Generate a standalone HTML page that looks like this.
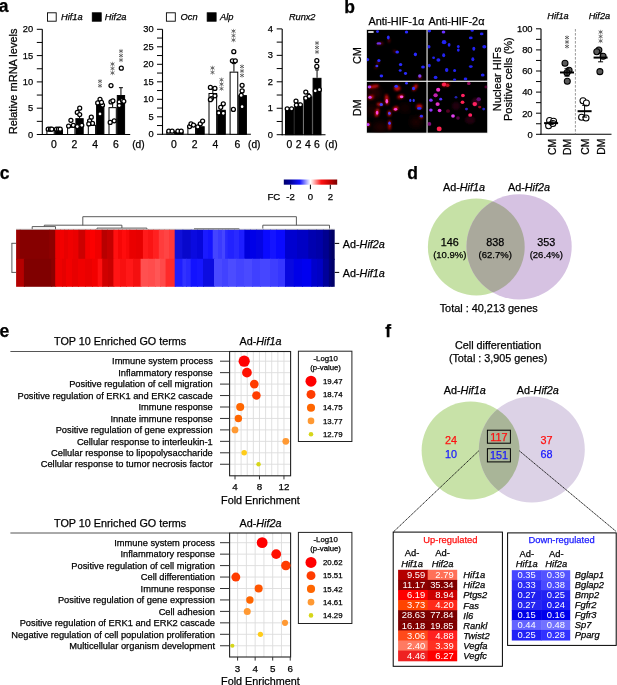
<!DOCTYPE html>
<html><head><meta charset="utf-8"><style>
html,body{margin:0;padding:0;background:#fff;width:617px;height:685px;overflow:hidden}
svg{display:block;will-change:transform;font-family:"Liberation Sans", sans-serif}
</style></head><body>
<svg width="617" height="685" viewBox="0 0 617 685" font-family="Liberation Sans, sans-serif">
<defs>
<linearGradient id="fcgrad" x1="0" x2="1" y1="0" y2="0">
<stop offset="0" stop-color="#00006e"/><stop offset="0.13" stop-color="#0000a0"/><stop offset="0.3" stop-color="#1414ff"/><stop offset="0.45" stop-color="#c8c8ff"/><stop offset="0.5" stop-color="#ffffff"/><stop offset="0.55" stop-color="#ffc8c8"/><stop offset="0.7" stop-color="#ff1414"/><stop offset="0.87" stop-color="#c00000"/><stop offset="1" stop-color="#7a0000"/>
</linearGradient>
<clipPath id="clipd"><circle cx="476.3" cy="247" r="48.4"/></clipPath>
<clipPath id="clipf"><circle cx="470.6" cy="450.5" r="49"/></clipPath>
<clipPath id="im1"><rect x="366.9" y="29.9" width="59.6" height="50.8"/></clipPath>
<clipPath id="im2"><rect x="427.6" y="29.9" width="59.6" height="50.8"/></clipPath>
<clipPath id="im3"><rect x="366.9" y="81.9" width="59.6" height="50.8"/></clipPath>
<clipPath id="im4"><rect x="427.6" y="81.9" width="59.6" height="50.8"/></clipPath>
<filter id="blur3" x="-50%" y="-50%" width="200%" height="200%"><feGaussianBlur stdDeviation="3"/></filter>
<filter id="blur1" x="-30%" y="-30%" width="160%" height="160%"><feGaussianBlur stdDeviation="0.6"/></filter>
<filter id="blur2" x="-20%" y="-20%" width="140%" height="140%"><feGaussianBlur stdDeviation="0.95"/></filter>
</defs>
<text x="-1.20" y="12.10" font-size="17.5" font-weight="bold" stroke="#000" stroke-width="0.25" >a</text>
<rect x="47.50" y="12.80" width="8.70" height="8.40" fill="#fff" stroke="#000" stroke-width="0.9" />
<text x="61.00" y="19.80" font-size="9.3" font-style="italic" stroke="#000" stroke-width="0.25" >Hif1a</text>
<rect x="92.30" y="12.80" width="8.90" height="8.40" fill="#000" stroke="#000" stroke-width="0.9" />
<text x="104.80" y="19.80" font-size="9.3" font-style="italic" stroke="#000" stroke-width="0.25" >Hif2a</text>
<rect x="166.40" y="12.80" width="8.90" height="8.40" fill="#fff" stroke="#000" stroke-width="0.9" />
<text x="180.50" y="19.80" font-size="9.3" font-style="italic" stroke="#000" stroke-width="0.25" >Ocn</text>
<rect x="207.20" y="12.80" width="8.90" height="8.40" fill="#000" stroke="#000" stroke-width="0.9" />
<text x="220.00" y="19.80" font-size="9.3" font-style="italic" stroke="#000" stroke-width="0.25" >Alp</text>
<text x="302.20" y="19.60" font-size="9.2" text-anchor="middle" font-style="italic" stroke="#000" stroke-width="0.25" >Runx2</text>
<text x="17.40" y="81.40" font-size="11.0" text-anchor="middle" stroke="#000" stroke-width="0.25" transform="rotate(-90 17.40 81.40)" >Relative mRNA levels</text>
<line x1="42.30" y1="29.30" x2="42.30" y2="135.00" stroke="#000" stroke-width="1.1" />
<line x1="41.80" y1="134.50" x2="130.20" y2="134.50" stroke="#000" stroke-width="1.1" />
<line x1="36.80" y1="134.50" x2="42.30" y2="134.50" stroke="#000" stroke-width="1.0" />
<line x1="36.80" y1="108.20" x2="42.30" y2="108.20" stroke="#000" stroke-width="1.0" />
<line x1="36.80" y1="81.90" x2="42.30" y2="81.90" stroke="#000" stroke-width="1.0" />
<line x1="36.80" y1="55.60" x2="42.30" y2="55.60" stroke="#000" stroke-width="1.0" />
<line x1="36.80" y1="29.30" x2="42.30" y2="29.30" stroke="#000" stroke-width="1.0" />
<line x1="36.80" y1="121.35" x2="42.30" y2="121.35" stroke="#000" stroke-width="1.0" />
<line x1="36.80" y1="95.05" x2="42.30" y2="95.05" stroke="#000" stroke-width="1.0" />
<line x1="36.80" y1="68.75" x2="42.30" y2="68.75" stroke="#000" stroke-width="1.0" />
<line x1="36.80" y1="42.45" x2="42.30" y2="42.45" stroke="#000" stroke-width="1.0" />
<text x="33.20" y="137.60" font-size="9.3" text-anchor="end" stroke="#000" stroke-width="0.25" >0</text>
<text x="33.20" y="111.30" font-size="9.3" text-anchor="end" stroke="#000" stroke-width="0.25" >5</text>
<text x="33.20" y="85.00" font-size="9.3" text-anchor="end" stroke="#000" stroke-width="0.25" >10</text>
<text x="33.20" y="58.70" font-size="9.3" text-anchor="end" stroke="#000" stroke-width="0.25" >15</text>
<text x="33.20" y="32.40" font-size="9.3" text-anchor="end" stroke="#000" stroke-width="0.25" >20</text>
<rect x="46.90" y="129.74" width="7.30" height="4.76" fill="#fff" stroke="#000" stroke-width="1.0" />
<rect x="55.20" y="129.74" width="7.30" height="4.76" fill="#000" stroke="#000" stroke-width="1.0" />
<rect x="67.60" y="127.37" width="7.30" height="7.13" fill="#fff" stroke="#000" stroke-width="1.0" />
<line x1="79.55" y1="118.19" x2="79.55" y2="113.99" stroke="#000" stroke-width="1.0" />
<line x1="77.55" y1="113.99" x2="81.55" y2="113.99" stroke="#000" stroke-width="1.0" />
<rect x="75.90" y="118.69" width="7.30" height="15.81" fill="#000" stroke="#000" stroke-width="1.0" />
<rect x="88.30" y="125.27" width="7.30" height="9.23" fill="#fff" stroke="#000" stroke-width="1.0" />
<line x1="100.25" y1="103.99" x2="100.25" y2="99.78" stroke="#000" stroke-width="1.0" />
<line x1="98.25" y1="99.78" x2="102.25" y2="99.78" stroke="#000" stroke-width="1.0" />
<rect x="96.60" y="104.49" width="7.30" height="30.01" fill="#000" stroke="#000" stroke-width="1.0" />
<line x1="112.65" y1="107.15" x2="112.65" y2="100.84" stroke="#000" stroke-width="1.0" />
<line x1="110.65" y1="100.84" x2="114.65" y2="100.84" stroke="#000" stroke-width="1.0" />
<rect x="109.00" y="107.65" width="7.30" height="26.85" fill="#fff" stroke="#000" stroke-width="1.0" />
<line x1="120.95" y1="95.05" x2="120.95" y2="87.69" stroke="#000" stroke-width="1.0" />
<line x1="118.95" y1="87.69" x2="122.95" y2="87.69" stroke="#000" stroke-width="1.0" />
<rect x="117.30" y="95.55" width="7.30" height="38.95" fill="#000" stroke="#000" stroke-width="1.0" />
<circle cx="48.20" cy="129.24" r="2.00" fill="#fff" stroke="#000" stroke-width="1.25" />
<circle cx="50.40" cy="129.24" r="2.00" fill="#fff" stroke="#000" stroke-width="1.25" />
<circle cx="51.80" cy="129.24" r="2.00" fill="#fff" stroke="#000" stroke-width="1.25" />
<circle cx="68.60" cy="126.08" r="2.00" fill="#fff" stroke="#000" stroke-width="1.25" />
<circle cx="70.90" cy="120.30" r="2.00" fill="#fff" stroke="#000" stroke-width="1.25" />
<circle cx="73.30" cy="125.30" r="2.00" fill="#fff" stroke="#000" stroke-width="1.25" />
<circle cx="91.30" cy="117.14" r="2.00" fill="#fff" stroke="#000" stroke-width="1.25" />
<circle cx="89.60" cy="120.82" r="2.00" fill="#fff" stroke="#000" stroke-width="1.25" />
<circle cx="92.50" cy="123.45" r="2.00" fill="#fff" stroke="#000" stroke-width="1.25" />
<circle cx="88.80" cy="123.98" r="2.00" fill="#fff" stroke="#000" stroke-width="1.25" />
<circle cx="111.00" cy="85.58" r="2.00" fill="#fff" stroke="#000" stroke-width="1.25" />
<circle cx="111.00" cy="101.89" r="2.00" fill="#fff" stroke="#000" stroke-width="1.25" />
<circle cx="112.90" cy="100.84" r="2.00" fill="#fff" stroke="#000" stroke-width="1.25" />
<circle cx="110.20" cy="122.40" r="2.00" fill="#fff" stroke="#000" stroke-width="1.25" />
<circle cx="114.20" cy="120.82" r="2.00" fill="#fff" stroke="#000" stroke-width="1.25" />
<circle cx="56.50" cy="129.24" r="2.00" fill="#fff" stroke="#000" stroke-width="1.25" />
<circle cx="58.50" cy="129.24" r="2.00" fill="#fff" stroke="#000" stroke-width="1.25" />
<circle cx="60.20" cy="129.24" r="2.00" fill="#fff" stroke="#000" stroke-width="1.25" />
<circle cx="77.30" cy="112.41" r="2.00" fill="#fff" stroke="#000" stroke-width="1.25" />
<circle cx="79.70" cy="108.20" r="2.00" fill="#fff" stroke="#000" stroke-width="1.25" />
<circle cx="79.70" cy="114.51" r="2.00" fill="#fff" stroke="#000" stroke-width="1.25" />
<circle cx="77.30" cy="126.61" r="2.00" fill="#fff" stroke="#000" stroke-width="1.25" />
<circle cx="81.80" cy="125.30" r="2.00" fill="#fff" stroke="#000" stroke-width="1.25" />
<circle cx="100.00" cy="99.26" r="2.00" fill="#fff" stroke="#000" stroke-width="1.25" />
<circle cx="97.70" cy="102.94" r="2.00" fill="#fff" stroke="#000" stroke-width="1.25" />
<circle cx="102.50" cy="105.04" r="2.00" fill="#fff" stroke="#000" stroke-width="1.25" />
<circle cx="100.00" cy="113.99" r="2.00" fill="#fff" stroke="#000" stroke-width="1.25" />
<circle cx="101.50" cy="102.41" r="2.00" fill="#fff" stroke="#000" stroke-width="1.25" />
<circle cx="121.30" cy="68.22" r="2.00" fill="#fff" stroke="#000" stroke-width="1.25" />
<circle cx="119.30" cy="101.89" r="2.00" fill="#fff" stroke="#000" stroke-width="1.25" />
<circle cx="122.50" cy="100.31" r="2.00" fill="#fff" stroke="#000" stroke-width="1.25" />
<circle cx="123.80" cy="101.36" r="2.00" fill="#fff" stroke="#000" stroke-width="1.25" />
<circle cx="119.30" cy="105.57" r="2.00" fill="#fff" stroke="#000" stroke-width="1.25" />
<path d="M100.00,79.03V83.53M100.00,83.47V87.97" stroke="#888" stroke-width="0.8" fill="none"/>
<path d="M98.05,80.04L101.95,82.51M98.05,82.51L101.95,80.04M98.05,84.49L101.95,86.96M98.05,86.96L101.95,84.49" stroke="#555" stroke-width="0.9" fill="none"/>
<path d="M112.50,61.80V66.30M112.50,66.25V70.75M112.50,70.70V75.20" stroke="#888" stroke-width="0.8" fill="none"/>
<path d="M110.55,62.81L114.45,65.29M110.55,65.29L114.45,62.81M110.55,67.26L114.45,69.74M110.55,69.74L114.45,67.26M110.55,71.71L114.45,74.19M110.55,74.19L114.45,71.71" stroke="#555" stroke-width="0.9" fill="none"/>
<path d="M121.00,48.90V53.40M121.00,53.35V57.85M121.00,57.80V62.30" stroke="#888" stroke-width="0.8" fill="none"/>
<path d="M119.05,49.91L122.95,52.39M119.05,52.39L122.95,49.91M119.05,54.36L122.95,56.84M119.05,56.84L122.95,54.36M119.05,58.81L122.95,61.29M119.05,61.29L122.95,58.81" stroke="#555" stroke-width="0.9" fill="none"/>
<text x="53.80" y="148.10" font-size="10.4" text-anchor="middle" stroke="#000" stroke-width="0.25" >0</text>
<text x="74.50" y="148.10" font-size="10.4" text-anchor="middle" stroke="#000" stroke-width="0.25" >2</text>
<text x="95.20" y="148.10" font-size="10.4" text-anchor="middle" stroke="#000" stroke-width="0.25" >4</text>
<text x="116.00" y="148.10" font-size="10.4" text-anchor="middle" stroke="#000" stroke-width="0.25" >6</text>
<text x="132.20" y="148.10" font-size="10.2" stroke="#000" stroke-width="0.25" >(d)</text>
<line x1="162.50" y1="29.30" x2="162.50" y2="134.80" stroke="#000" stroke-width="1.1" />
<line x1="162.00" y1="134.30" x2="250.90" y2="134.30" stroke="#000" stroke-width="1.1" />
<line x1="157.00" y1="134.30" x2="162.50" y2="134.30" stroke="#000" stroke-width="1.0" />
<line x1="157.00" y1="116.80" x2="162.50" y2="116.80" stroke="#000" stroke-width="1.0" />
<line x1="157.00" y1="99.30" x2="162.50" y2="99.30" stroke="#000" stroke-width="1.0" />
<line x1="157.00" y1="81.80" x2="162.50" y2="81.80" stroke="#000" stroke-width="1.0" />
<line x1="157.00" y1="64.30" x2="162.50" y2="64.30" stroke="#000" stroke-width="1.0" />
<line x1="157.00" y1="46.80" x2="162.50" y2="46.80" stroke="#000" stroke-width="1.0" />
<line x1="157.00" y1="29.30" x2="162.50" y2="29.30" stroke="#000" stroke-width="1.0" />
<line x1="157.00" y1="125.55" x2="162.50" y2="125.55" stroke="#000" stroke-width="1.0" />
<line x1="157.00" y1="108.05" x2="162.50" y2="108.05" stroke="#000" stroke-width="1.0" />
<line x1="157.00" y1="90.55" x2="162.50" y2="90.55" stroke="#000" stroke-width="1.0" />
<line x1="157.00" y1="73.05" x2="162.50" y2="73.05" stroke="#000" stroke-width="1.0" />
<line x1="157.00" y1="55.55" x2="162.50" y2="55.55" stroke="#000" stroke-width="1.0" />
<line x1="157.00" y1="38.05" x2="162.50" y2="38.05" stroke="#000" stroke-width="1.0" />
<text x="153.60" y="137.40" font-size="9.3" text-anchor="end" stroke="#000" stroke-width="0.25" >0</text>
<text x="153.60" y="119.90" font-size="9.3" text-anchor="end" stroke="#000" stroke-width="0.25" >5</text>
<text x="153.60" y="102.40" font-size="9.3" text-anchor="end" stroke="#000" stroke-width="0.25" >10</text>
<text x="153.60" y="84.90" font-size="9.3" text-anchor="end" stroke="#000" stroke-width="0.25" >15</text>
<text x="153.60" y="67.40" font-size="9.3" text-anchor="end" stroke="#000" stroke-width="0.25" >20</text>
<text x="153.60" y="49.90" font-size="9.3" text-anchor="end" stroke="#000" stroke-width="0.25" >25</text>
<text x="153.60" y="32.40" font-size="9.3" text-anchor="end" stroke="#000" stroke-width="0.25" >30</text>
<rect x="166.80" y="131.30" width="7.65" height="3.00" fill="#fff" stroke="#000" stroke-width="1.0" />
<rect x="175.45" y="131.48" width="7.65" height="2.82" fill="#000" stroke="#000" stroke-width="1.0" />
<line x1="191.72" y1="125.90" x2="191.72" y2="124.15" stroke="#000" stroke-width="1.0" />
<line x1="189.72" y1="124.15" x2="193.72" y2="124.15" stroke="#000" stroke-width="1.0" />
<rect x="187.90" y="126.40" width="7.65" height="7.90" fill="#fff" stroke="#000" stroke-width="1.0" />
<line x1="200.38" y1="126.25" x2="200.38" y2="124.15" stroke="#000" stroke-width="1.0" />
<line x1="198.38" y1="124.15" x2="202.38" y2="124.15" stroke="#000" stroke-width="1.0" />
<rect x="196.55" y="126.75" width="7.65" height="7.55" fill="#000" stroke="#000" stroke-width="1.0" />
<line x1="212.82" y1="93.00" x2="212.82" y2="88.10" stroke="#000" stroke-width="1.0" />
<line x1="210.82" y1="88.10" x2="214.82" y2="88.10" stroke="#000" stroke-width="1.0" />
<rect x="209.00" y="93.50" width="7.65" height="40.80" fill="#fff" stroke="#000" stroke-width="1.0" />
<line x1="221.47" y1="109.80" x2="221.47" y2="106.30" stroke="#000" stroke-width="1.0" />
<line x1="219.47" y1="106.30" x2="223.47" y2="106.30" stroke="#000" stroke-width="1.0" />
<rect x="217.65" y="110.30" width="7.65" height="24.00" fill="#000" stroke="#000" stroke-width="1.0" />
<line x1="233.93" y1="71.65" x2="233.93" y2="63.60" stroke="#000" stroke-width="1.0" />
<line x1="231.93" y1="63.60" x2="235.93" y2="63.60" stroke="#000" stroke-width="1.0" />
<rect x="230.10" y="72.15" width="7.65" height="62.15" fill="#fff" stroke="#000" stroke-width="1.0" />
<line x1="242.58" y1="95.10" x2="242.58" y2="90.20" stroke="#000" stroke-width="1.0" />
<line x1="240.58" y1="90.20" x2="244.58" y2="90.20" stroke="#000" stroke-width="1.0" />
<rect x="238.75" y="95.60" width="7.65" height="38.70" fill="#000" stroke="#000" stroke-width="1.0" />
<circle cx="168.80" cy="131.15" r="2.00" fill="#fff" stroke="#000" stroke-width="1.25" />
<circle cx="172.10" cy="131.15" r="2.00" fill="#fff" stroke="#000" stroke-width="1.25" />
<circle cx="189.60" cy="126.60" r="2.00" fill="#fff" stroke="#000" stroke-width="1.25" />
<circle cx="191.00" cy="123.80" r="2.00" fill="#fff" stroke="#000" stroke-width="1.25" />
<circle cx="193.50" cy="125.03" r="2.00" fill="#fff" stroke="#000" stroke-width="1.25" />
<circle cx="210.40" cy="87.40" r="2.00" fill="#fff" stroke="#000" stroke-width="1.25" />
<circle cx="214.90" cy="88.45" r="2.00" fill="#fff" stroke="#000" stroke-width="1.25" />
<circle cx="211.40" cy="98.60" r="2.00" fill="#fff" stroke="#000" stroke-width="1.25" />
<circle cx="214.90" cy="95.80" r="2.00" fill="#fff" stroke="#000" stroke-width="1.25" />
<circle cx="210.40" cy="99.65" r="2.00" fill="#fff" stroke="#000" stroke-width="1.25" />
<circle cx="233.80" cy="51.70" r="2.00" fill="#fff" stroke="#000" stroke-width="1.25" />
<circle cx="232.40" cy="60.80" r="2.00" fill="#fff" stroke="#000" stroke-width="1.25" />
<circle cx="235.30" cy="60.80" r="2.00" fill="#fff" stroke="#000" stroke-width="1.25" />
<circle cx="233.40" cy="109.45" r="2.00" fill="#fff" stroke="#000" stroke-width="1.25" />
<circle cx="177.90" cy="131.15" r="2.00" fill="#fff" stroke="#000" stroke-width="1.25" />
<circle cx="181.20" cy="131.15" r="2.00" fill="#fff" stroke="#000" stroke-width="1.25" />
<circle cx="197.80" cy="126.95" r="2.00" fill="#fff" stroke="#000" stroke-width="1.25" />
<circle cx="200.30" cy="123.80" r="2.00" fill="#fff" stroke="#000" stroke-width="1.25" />
<circle cx="202.60" cy="121.00" r="2.00" fill="#fff" stroke="#000" stroke-width="1.25" />
<circle cx="223.30" cy="103.85" r="2.00" fill="#fff" stroke="#000" stroke-width="1.25" />
<circle cx="220.70" cy="107.35" r="2.00" fill="#fff" stroke="#000" stroke-width="1.25" />
<circle cx="218.80" cy="112.95" r="2.00" fill="#fff" stroke="#000" stroke-width="1.25" />
<circle cx="223.30" cy="113.30" r="2.00" fill="#fff" stroke="#000" stroke-width="1.25" />
<circle cx="242.10" cy="85.30" r="2.00" fill="#fff" stroke="#000" stroke-width="1.25" />
<circle cx="242.10" cy="90.90" r="2.00" fill="#fff" stroke="#000" stroke-width="1.25" />
<circle cx="241.20" cy="95.45" r="2.00" fill="#fff" stroke="#000" stroke-width="1.25" />
<circle cx="242.10" cy="106.65" r="2.00" fill="#fff" stroke="#000" stroke-width="1.25" />
<path d="M212.50,65.73V70.23M212.50,70.17V74.67" stroke="#888" stroke-width="0.8" fill="none"/>
<path d="M210.55,66.74L214.45,69.21M210.55,69.21L214.45,66.74M210.55,71.19L214.45,73.66M210.55,73.66L214.45,71.19" stroke="#555" stroke-width="0.9" fill="none"/>
<path d="M221.50,77.50V82.00M221.50,81.95V86.45M221.50,86.40V90.90" stroke="#888" stroke-width="0.8" fill="none"/>
<path d="M219.55,78.51L223.45,80.99M219.55,80.99L223.45,78.51M219.55,82.96L223.45,85.44M219.55,85.44L223.45,82.96M219.55,87.41L223.45,89.89M219.55,89.89L223.45,87.41" stroke="#555" stroke-width="0.9" fill="none"/>
<path d="M233.50,28.90V33.40M233.50,33.35V37.85M233.50,37.80V42.30" stroke="#888" stroke-width="0.8" fill="none"/>
<path d="M231.55,29.91L235.45,32.39M231.55,32.39L235.45,29.91M231.55,34.36L235.45,36.84M231.55,36.84L235.45,34.36M231.55,38.81L235.45,41.29M231.55,41.29L235.45,38.81" stroke="#555" stroke-width="0.9" fill="none"/>
<path d="M242.00,64.30V68.80M242.00,68.75V73.25M242.00,73.20V77.70" stroke="#888" stroke-width="0.8" fill="none"/>
<path d="M240.05,65.31L243.95,67.79M240.05,67.79L243.95,65.31M240.05,69.76L243.95,72.24M240.05,72.24L243.95,69.76M240.05,74.21L243.95,76.69M240.05,76.69L243.95,74.21" stroke="#555" stroke-width="0.9" fill="none"/>
<text x="173.80" y="148.10" font-size="10.4" text-anchor="middle" stroke="#000" stroke-width="0.25" >0</text>
<text x="194.60" y="148.10" font-size="10.4" text-anchor="middle" stroke="#000" stroke-width="0.25" >2</text>
<text x="215.30" y="148.10" font-size="10.4" text-anchor="middle" stroke="#000" stroke-width="0.25" >4</text>
<text x="237.40" y="148.10" font-size="10.4" text-anchor="middle" stroke="#000" stroke-width="0.25" >6</text>
<text x="248.00" y="148.10" font-size="10.2" stroke="#000" stroke-width="0.25" >(d)</text>
<line x1="282.20" y1="28.90" x2="282.20" y2="135.20" stroke="#000" stroke-width="1.1" />
<line x1="281.70" y1="134.70" x2="325.50" y2="134.70" stroke="#000" stroke-width="1.1" />
<line x1="276.70" y1="134.70" x2="282.20" y2="134.70" stroke="#000" stroke-width="1.0" />
<line x1="276.70" y1="108.25" x2="282.20" y2="108.25" stroke="#000" stroke-width="1.0" />
<line x1="276.70" y1="81.80" x2="282.20" y2="81.80" stroke="#000" stroke-width="1.0" />
<line x1="276.70" y1="55.35" x2="282.20" y2="55.35" stroke="#000" stroke-width="1.0" />
<line x1="276.70" y1="28.90" x2="282.20" y2="28.90" stroke="#000" stroke-width="1.0" />
<line x1="276.70" y1="121.47" x2="282.20" y2="121.47" stroke="#000" stroke-width="1.0" />
<line x1="276.70" y1="95.02" x2="282.20" y2="95.02" stroke="#000" stroke-width="1.0" />
<line x1="276.70" y1="68.57" x2="282.20" y2="68.57" stroke="#000" stroke-width="1.0" />
<line x1="276.70" y1="42.12" x2="282.20" y2="42.12" stroke="#000" stroke-width="1.0" />
<text x="273.00" y="137.80" font-size="9.3" text-anchor="end" stroke="#000" stroke-width="0.25" >0</text>
<text x="273.00" y="111.35" font-size="9.3" text-anchor="end" stroke="#000" stroke-width="0.25" >1</text>
<text x="273.00" y="84.90" font-size="9.3" text-anchor="end" stroke="#000" stroke-width="0.25" >2</text>
<text x="273.00" y="58.45" font-size="9.3" text-anchor="end" stroke="#000" stroke-width="0.25" >3</text>
<text x="273.00" y="32.00" font-size="9.3" text-anchor="end" stroke="#000" stroke-width="0.25" >4</text>
<rect x="285.50" y="108.75" width="7.90" height="25.95" fill="#000" stroke="#000" stroke-width="1.0" />
<line x1="298.65" y1="105.60" x2="298.65" y2="102.96" stroke="#000" stroke-width="1.0" />
<line x1="296.65" y1="102.96" x2="300.65" y2="102.96" stroke="#000" stroke-width="1.0" />
<rect x="294.70" y="106.10" width="7.90" height="28.59" fill="#000" stroke="#000" stroke-width="1.0" />
<line x1="307.95" y1="96.35" x2="307.95" y2="93.70" stroke="#000" stroke-width="1.0" />
<line x1="305.95" y1="93.70" x2="309.95" y2="93.70" stroke="#000" stroke-width="1.0" />
<rect x="304.00" y="96.85" width="7.90" height="37.85" fill="#000" stroke="#000" stroke-width="1.0" />
<line x1="317.05" y1="77.83" x2="317.05" y2="69.90" stroke="#000" stroke-width="1.0" />
<line x1="315.05" y1="69.90" x2="319.05" y2="69.90" stroke="#000" stroke-width="1.0" />
<rect x="313.10" y="78.33" width="7.90" height="56.37" fill="#000" stroke="#000" stroke-width="1.0" />
<circle cx="287.20" cy="108.78" r="2.00" fill="#fff" stroke="#000" stroke-width="1.25" />
<circle cx="291.60" cy="108.78" r="2.00" fill="#fff" stroke="#000" stroke-width="1.25" />
<circle cx="296.00" cy="101.11" r="2.00" fill="#fff" stroke="#000" stroke-width="1.25" />
<circle cx="296.40" cy="105.08" r="2.00" fill="#fff" stroke="#000" stroke-width="1.25" />
<circle cx="300.40" cy="104.81" r="2.00" fill="#fff" stroke="#000" stroke-width="1.25" />
<circle cx="305.80" cy="92.12" r="2.00" fill="#fff" stroke="#000" stroke-width="1.25" />
<circle cx="305.80" cy="98.20" r="2.00" fill="#fff" stroke="#000" stroke-width="1.25" />
<circle cx="309.10" cy="96.35" r="2.00" fill="#fff" stroke="#000" stroke-width="1.25" />
<circle cx="316.80" cy="60.64" r="2.00" fill="#fff" stroke="#000" stroke-width="1.25" />
<circle cx="316.80" cy="66.46" r="2.00" fill="#fff" stroke="#000" stroke-width="1.25" />
<circle cx="315.30" cy="90.79" r="2.00" fill="#fff" stroke="#000" stroke-width="1.25" />
<circle cx="319.40" cy="89.73" r="2.00" fill="#fff" stroke="#000" stroke-width="1.25" />
<path d="M317.00,40.80V45.30M317.00,45.25V49.75M317.00,49.70V54.20" stroke="#888" stroke-width="0.8" fill="none"/>
<path d="M315.05,41.81L318.95,44.29M315.05,44.29L318.95,41.81M315.05,46.26L318.95,48.74M315.05,48.74L318.95,46.26M315.05,50.71L318.95,53.19M315.05,53.19L318.95,50.71" stroke="#555" stroke-width="0.9" fill="none"/>
<text x="289.50" y="148.10" font-size="10.4" text-anchor="middle" stroke="#000" stroke-width="0.25" >0</text>
<text x="298.60" y="148.10" font-size="10.4" text-anchor="middle" stroke="#000" stroke-width="0.25" >2</text>
<text x="307.80" y="148.10" font-size="10.4" text-anchor="middle" stroke="#000" stroke-width="0.25" >4</text>
<text x="316.90" y="148.10" font-size="10.4" text-anchor="middle" stroke="#000" stroke-width="0.25" >6</text>
<text x="325.10" y="148.10" font-size="10.2" stroke="#000" stroke-width="0.25" >(d)</text>
<text x="344.30" y="12.50" font-size="17.5" font-weight="bold" stroke="#000" stroke-width="0.25" >b</text>
<text x="396.40" y="25.40" font-size="10.9" text-anchor="middle" stroke="#000" stroke-width="0.25" >Anti-HIF-1α</text>
<text x="456.50" y="25.40" font-size="10.9" text-anchor="middle" stroke="#000" stroke-width="0.25" >Anti-HIF-2α</text>
<text x="360.90" y="55.60" font-size="10.9" text-anchor="middle" stroke="#000" stroke-width="0.25" transform="rotate(-90 360.90 55.60)" >CM</text>
<text x="360.90" y="107.80" font-size="10.9" text-anchor="middle" stroke="#000" stroke-width="0.25" transform="rotate(-90 360.90 107.80)" >DM</text>
<rect x="366.00" y="29.00" width="122.20" height="104.60" fill="#f0f0f0" />
<rect x="366.90" y="29.90" width="59.60" height="50.80" fill="#000" />
<rect x="427.60" y="29.90" width="59.60" height="50.80" fill="#000" />
<rect x="366.90" y="81.90" width="59.60" height="50.80" fill="#000" />
<rect x="427.60" y="81.90" width="59.60" height="50.80" fill="#000" />
<g clip-path="url(#im1)">
<g filter="url(#blur2)">
<ellipse cx="380" cy="43.6" rx="3.5" ry="1.2" fill="#700010" transform="rotate(-5 380 43.6)"/>
<ellipse cx="389" cy="40.5" rx="1" ry="2.2" fill="#700010" transform="rotate(0 389 40.5)"/>
<ellipse cx="395" cy="51.5" rx="2" ry="1" fill="#700010" transform="rotate(20 395 51.5)"/>
<ellipse cx="378" cy="62.5" rx="1.5" ry="1.2" fill="#700010" transform="rotate(0 378 62.5)"/>
<ellipse cx="376" cy="67.5" rx="1.5" ry="1" fill="#700010" transform="rotate(0 376 67.5)"/>
<ellipse cx="420" cy="77.5" rx="2" ry="1.5" fill="#700010" transform="rotate(0 420 77.5)"/>
</g><g filter="url(#blur1)">
<ellipse cx="377.5" cy="31.6" rx="1.5" ry="1.3" fill="#2a2aff"/>
<ellipse cx="406.5" cy="32" rx="1.7" ry="1.5" fill="#2a2aff"/>
<ellipse cx="388.3" cy="37.5" rx="1.4" ry="2.0" fill="#2a2aff"/>
<ellipse cx="378.9" cy="43.4" rx="2.4" ry="1.2" fill="#6a30e8"/>
<ellipse cx="397.2" cy="52.1" rx="1.8" ry="1.5" fill="#2a2aff"/>
<ellipse cx="415.4" cy="54.3" rx="1.6" ry="1.9" fill="#2a2aff"/>
<ellipse cx="367.6" cy="59.6" rx="1.5" ry="1.6" fill="#2a2aff"/>
<ellipse cx="378.9" cy="60.6" rx="1.6" ry="1.5" fill="#2a2aff"/>
<ellipse cx="376.9" cy="66" rx="1.5" ry="1.3" fill="#3a30f0"/>
<ellipse cx="400.6" cy="64.6" rx="1.7" ry="1.5" fill="#2a2aff"/>
<ellipse cx="423" cy="67" rx="1.9" ry="1.6" fill="#2a2aff"/>
<ellipse cx="400.2" cy="70.5" rx="1.5" ry="1.3" fill="#2a2aff"/>
<ellipse cx="405.5" cy="73.5" rx="1.6" ry="1.4" fill="#2a2aff"/>
<ellipse cx="381.4" cy="76" rx="1.8" ry="1.4" fill="#2a2aff"/>
<ellipse cx="419.8" cy="76" rx="1.7" ry="1.8" fill="#8040f0"/>
</g></g>
<g clip-path="url(#im2)"><g filter="url(#blur1)">
<ellipse cx="429.3" cy="31" rx="1.8" ry="1.4" fill="#2424f4"/>
<ellipse cx="443.5" cy="32" rx="1.8" ry="1.6" fill="#6a30ff"/>
<ellipse cx="472.2" cy="30.4" rx="1.6" ry="1.3" fill="#2424f4"/>
<ellipse cx="481.7" cy="33.9" rx="1.8" ry="1.4" fill="#2424f4"/>
<ellipse cx="470.8" cy="37.9" rx="1.9" ry="1.4" fill="#2424f4"/>
<ellipse cx="444.1" cy="42.2" rx="2.3" ry="2.1" fill="#2424f4"/>
<ellipse cx="449.1" cy="44.8" rx="1.4" ry="1.9" fill="#2424f4"/>
<ellipse cx="428.9" cy="46.8" rx="1.6" ry="1.8" fill="#2424f4"/>
<ellipse cx="458.3" cy="46.5" rx="1.4" ry="1.6" fill="#2424f4"/>
<ellipse cx="458.3" cy="50.1" rx="1.4" ry="1.6" fill="#2424f4"/>
<ellipse cx="473.8" cy="48.8" rx="1.5" ry="2.0" fill="#2424f4"/>
<ellipse cx="484.3" cy="46.8" rx="2.0" ry="1.8" fill="#2424f4"/>
<ellipse cx="443.7" cy="55.3" rx="1.5" ry="2.0" fill="#2424f4"/>
<ellipse cx="433.6" cy="57.7" rx="1.4" ry="1.3" fill="#2424f4"/>
<ellipse cx="438.4" cy="60" rx="2.0" ry="1.8" fill="#2424f4"/>
<ellipse cx="472.8" cy="59.2" rx="1.5" ry="2.0" fill="#2424f4"/>
<ellipse cx="429.3" cy="65.6" rx="1.5" ry="1.8" fill="#2424f4"/>
<ellipse cx="470.8" cy="66.6" rx="1.9" ry="1.4" fill="#2424f4"/>
<ellipse cx="446.7" cy="69.9" rx="1.7" ry="2.0" fill="#2424f4"/>
<ellipse cx="454.6" cy="70.5" rx="1.5" ry="1.6" fill="#2424f4"/>
<ellipse cx="482.7" cy="75.1" rx="1.9" ry="1.5" fill="#2424f4"/>
<ellipse cx="435.6" cy="77.4" rx="1.9" ry="1.6" fill="#2424f4"/>
<ellipse cx="465.5" cy="79" rx="1.8" ry="1.4" fill="#2424f4"/>
<ellipse cx="454.6" cy="79.8" rx="1.6" ry="1.2" fill="#2424f4"/>
</g></g>
<g clip-path="url(#im3)">
<g filter="url(#blur3)">
<ellipse cx="374" cy="93" rx="7" ry="6" fill="#2a0000"/>
<ellipse cx="380" cy="127" rx="7" ry="4" fill="#2a0000"/>
<ellipse cx="372" cy="110" rx="4" ry="5" fill="#2a0000"/>
<ellipse cx="416" cy="122" rx="5" ry="4" fill="#2a0000"/>
<ellipse cx="405" cy="108" rx="4" ry="3" fill="#2a0000"/>
</g>
<g filter="url(#blur2)">
<ellipse cx="373.5" cy="86.6" rx="5.5" ry="1.7" fill="#c00808" transform="rotate(-10 373.5 86.6)"/>
<ellipse cx="397.2" cy="88.2" rx="3.2" ry="2.8" fill="#c00808" transform="rotate(0 397.2 88.2)"/>
<ellipse cx="415" cy="87.5" rx="1.9" ry="3.8" fill="#c00808" transform="rotate(35 415 87.5)"/>
<ellipse cx="371" cy="97.3" rx="3.0" ry="2.0" fill="#c00808" transform="rotate(-20 371 97.3)"/>
<ellipse cx="400.6" cy="96.6" rx="3.4" ry="2.0" fill="#c00808" transform="rotate(-15 400.6 96.6)"/>
<ellipse cx="386.8" cy="99.5" rx="2.0" ry="5.6" fill="#c00808" transform="rotate(-5 386.8 99.5)"/>
<ellipse cx="379.8" cy="104.2" rx="3.2" ry="1.8" fill="#c00808" transform="rotate(0 379.8 104.2)"/>
<ellipse cx="419.4" cy="106.5" rx="3.0" ry="2.6" fill="#c00808" transform="rotate(0 419.4 106.5)"/>
<ellipse cx="395.6" cy="108.6" rx="3.0" ry="2.2" fill="#c00808" transform="rotate(-30 395.6 108.6)"/>
<ellipse cx="377.1" cy="112.6" rx="2.0" ry="4.4" fill="#c00808" transform="rotate(12 377.1 112.6)"/>
<ellipse cx="389.4" cy="113.6" rx="1.8" ry="3.0" fill="#c00808" transform="rotate(0 389.4 113.6)"/>
<ellipse cx="368" cy="124.5" rx="1.8" ry="2.0" fill="#c00808" transform="rotate(0 368 124.5)"/>
<ellipse cx="389.6" cy="125" rx="1.4" ry="5.0" fill="#c00808" transform="rotate(0 389.6 125)"/>
<ellipse cx="421.4" cy="117" rx="1.8" ry="1.6" fill="#c00808" transform="rotate(0 421.4 117)"/>
</g>
<g filter="url(#blur1)">
<ellipse cx="370" cy="97.2" rx="1.7" ry="1.5" fill="#d040f0"/>
<ellipse cx="369.5" cy="87" rx="1.8" ry="1.4" fill="#b040ff"/>
<ellipse cx="396.2" cy="86.3" rx="1.8" ry="1.5" fill="#3030ff"/>
<ellipse cx="413.5" cy="88.5" rx="1.5" ry="1.8" fill="#3030ff"/>
<ellipse cx="406.5" cy="83.2" rx="1.5" ry="1.2" fill="#3030ff"/>
<ellipse cx="401.6" cy="96.8" rx="1.8" ry="1.4" fill="#ff50e0"/>
<ellipse cx="386.8" cy="101.2" rx="1.3" ry="2.2" fill="#ff50e0"/>
<ellipse cx="381.3" cy="104.4" rx="1.7" ry="1.5" fill="#4040ff"/>
<ellipse cx="410.3" cy="100.4" rx="1.1" ry="1.7" fill="#3030ff"/>
<ellipse cx="413.7" cy="100.4" rx="1.1" ry="1.7" fill="#3030ff"/>
<ellipse cx="419.3" cy="108.4" rx="2.3" ry="1.4" fill="#3030ff"/>
<ellipse cx="395.6" cy="109.3" rx="1.7" ry="1.4" fill="#ff40e0"/>
<ellipse cx="377.1" cy="112.7" rx="1.3" ry="2.0" fill="#ff40e0"/>
<ellipse cx="389.4" cy="113.2" rx="1.4" ry="1.5" fill="#5040ff"/>
<ellipse cx="421.4" cy="116.2" rx="1.6" ry="1.4" fill="#3030ff"/>
<ellipse cx="368" cy="124.5" rx="1.6" ry="1.5" fill="#c040ff"/>
<ellipse cx="389.5" cy="123.2" rx="1.3" ry="1.6" fill="#4040ff"/>
</g></g>
<g clip-path="url(#im4)">
<g filter="url(#blur2)">
<ellipse cx="445.5" cy="84.5" rx="4.5" ry="2.5" fill="#700000"/>
<ellipse cx="476" cy="102" rx="4" ry="4" fill="#300018"/>
<ellipse cx="470" cy="120" rx="5" ry="4" fill="#200010"/>
<ellipse cx="456" cy="106" rx="4" ry="4" fill="#200010"/>
</g>
<g filter="url(#blur1)">
<ellipse cx="444.1" cy="84.4" rx="2.2" ry="2.02" fill="#ff2050"/>
<ellipse cx="447.6" cy="85.3" rx="1.8" ry="1.66" fill="#c01020"/>
<ellipse cx="468.8" cy="83.4" rx="1.8" ry="1.66" fill="#901060"/>
<ellipse cx="438.2" cy="89.7" rx="2.1" ry="1.93" fill="#f030d0"/>
<ellipse cx="435.6" cy="95.2" rx="2.2" ry="2.02" fill="#c020b0"/>
<ellipse cx="462.9" cy="95.6" rx="1.9" ry="1.75" fill="#ff2060"/>
<ellipse cx="456" cy="97.2" rx="1.4" ry="1.29" fill="#2020b0"/>
<ellipse cx="430.9" cy="100.2" rx="1.8" ry="1.66" fill="#8030ff"/>
<ellipse cx="440.7" cy="99.2" rx="1.5" ry="1.38" fill="#5030ff"/>
<ellipse cx="437.6" cy="104.1" rx="2.1" ry="1.93" fill="#e030c8"/>
<ellipse cx="462.5" cy="102.2" rx="1.9" ry="1.75" fill="#ff2050"/>
<ellipse cx="474.8" cy="104.1" rx="2.3" ry="2.12" fill="#ff2060"/>
<ellipse cx="478.7" cy="99.2" rx="2.2" ry="2.02" fill="#601070"/>
<ellipse cx="430.9" cy="110.1" rx="1.8" ry="1.66" fill="#9030ff"/>
<ellipse cx="439.6" cy="110.5" rx="1.9" ry="1.75" fill="#e030e0"/>
<ellipse cx="479.7" cy="107.1" rx="1.6" ry="1.47" fill="#901020"/>
<ellipse cx="466.5" cy="109.1" rx="1.5" ry="1.38" fill="#3020c0"/>
<ellipse cx="453" cy="116" rx="1.9" ry="1.75" fill="#e040f0"/>
<ellipse cx="470.2" cy="115" rx="2.0" ry="1.84" fill="#ff2060"/>
<ellipse cx="429.3" cy="123.9" rx="2.0" ry="1.84" fill="#801080"/>
<ellipse cx="439.2" cy="128.9" rx="2.5" ry="2.30" fill="#ff2050"/>
<ellipse cx="483.7" cy="109.1" rx="1.5" ry="1.38" fill="#2020c0"/>
<ellipse cx="458" cy="118" rx="1.8" ry="1.66" fill="#500040"/>
<ellipse cx="448" cy="111" rx="2.0" ry="1.84" fill="#500020"/>
<ellipse cx="486" cy="87" rx="1.6" ry="1.47" fill="#500030"/>
</g></g>
<rect x="368.20" y="31.20" width="5.40" height="1.60" fill="#fff" />
<line x1="541.00" y1="28.80" x2="541.00" y2="134.80" stroke="#000" stroke-width="1.1" />
<line x1="540.50" y1="134.30" x2="611.50" y2="134.30" stroke="#000" stroke-width="1.1" />
<line x1="536.00" y1="134.30" x2="541.00" y2="134.30" stroke="#000" stroke-width="1.0" />
<text x="532.60" y="137.60" font-size="9.4" text-anchor="end" stroke="#000" stroke-width="0.25" >0</text>
<line x1="536.00" y1="123.75" x2="541.00" y2="123.75" stroke="#000" stroke-width="1.0" />
<line x1="536.00" y1="113.20" x2="541.00" y2="113.20" stroke="#000" stroke-width="1.0" />
<text x="532.60" y="116.50" font-size="9.4" text-anchor="end" stroke="#000" stroke-width="0.25" >20</text>
<line x1="536.00" y1="102.65" x2="541.00" y2="102.65" stroke="#000" stroke-width="1.0" />
<line x1="536.00" y1="92.10" x2="541.00" y2="92.10" stroke="#000" stroke-width="1.0" />
<text x="532.60" y="95.40" font-size="9.4" text-anchor="end" stroke="#000" stroke-width="0.25" >40</text>
<line x1="536.00" y1="81.55" x2="541.00" y2="81.55" stroke="#000" stroke-width="1.0" />
<line x1="536.00" y1="71.00" x2="541.00" y2="71.00" stroke="#000" stroke-width="1.0" />
<text x="532.60" y="74.30" font-size="9.4" text-anchor="end" stroke="#000" stroke-width="0.25" >60</text>
<line x1="536.00" y1="60.45" x2="541.00" y2="60.45" stroke="#000" stroke-width="1.0" />
<line x1="536.00" y1="49.90" x2="541.00" y2="49.90" stroke="#000" stroke-width="1.0" />
<text x="532.60" y="53.20" font-size="9.4" text-anchor="end" stroke="#000" stroke-width="0.25" >80</text>
<line x1="536.00" y1="39.35" x2="541.00" y2="39.35" stroke="#000" stroke-width="1.0" />
<line x1="536.00" y1="28.80" x2="541.00" y2="28.80" stroke="#000" stroke-width="1.0" />
<text x="532.60" y="32.10" font-size="9.4" text-anchor="end" stroke="#000" stroke-width="0.25" >100</text>
<line x1="575.4" y1="29" x2="575.4" y2="134.3" stroke="#777" stroke-width="0.75" stroke-dasharray="2.6,1.4"/>
<text x="558.00" y="19.30" font-size="9.2" text-anchor="middle" font-style="italic" stroke="#000" stroke-width="0.25" >Hif1a</text>
<text x="599.40" y="19.30" font-size="9.2" text-anchor="middle" font-style="italic" stroke="#000" stroke-width="0.25" >Hif2a</text>
<text x="501.00" y="79.10" font-size="11.0" text-anchor="middle" stroke="#000" stroke-width="0.25" transform="rotate(-90 501.00 79.10)" >Nuclear HIFs</text>
<text x="512.00" y="79.10" font-size="11.0" text-anchor="middle" stroke="#000" stroke-width="0.25" transform="rotate(-90 512.00 79.10)" >Positive cells (%)</text>
<text x="555.70" y="138.70" font-size="10.4" text-anchor="end" stroke="#000" stroke-width="0.25" transform="rotate(-90 555.70 138.70)" >CM</text>
<text x="571.40" y="138.70" font-size="10.4" text-anchor="end" stroke="#000" stroke-width="0.25" transform="rotate(-90 571.40 138.70)" >DM</text>
<text x="589.00" y="138.70" font-size="10.4" text-anchor="end" stroke="#000" stroke-width="0.25" transform="rotate(-90 589.00 138.70)" >CM</text>
<text x="605.00" y="138.70" font-size="10.4" text-anchor="end" stroke="#000" stroke-width="0.25" transform="rotate(-90 605.00 138.70)" >DM</text>
<circle cx="549.60" cy="120.59" r="3.00" fill="#fff" stroke="#000" stroke-width="1.05" />
<circle cx="553.60" cy="121.32" r="3.00" fill="#fff" stroke="#000" stroke-width="1.05" />
<circle cx="548.60" cy="125.65" r="3.00" fill="#fff" stroke="#000" stroke-width="1.05" />
<circle cx="552.90" cy="123.54" r="3.00" fill="#fff" stroke="#000" stroke-width="1.05" />
<line x1="544.10" y1="123.12" x2="558.10" y2="123.12" stroke="#000" stroke-width="2.0" />
<line x1="551.10" y1="121.85" x2="551.10" y2="124.38" stroke="#000" stroke-width="1.0" />
<line x1="548.60" y1="121.85" x2="553.60" y2="121.85" stroke="#000" stroke-width="1.0" />
<line x1="548.60" y1="124.38" x2="553.60" y2="124.38" stroke="#000" stroke-width="1.0" />
<circle cx="565.00" cy="63.19" r="3.00" fill="#5a5a5a" stroke="#000" stroke-width="1.05" />
<circle cx="569.10" cy="70.26" r="3.00" fill="#5a5a5a" stroke="#000" stroke-width="1.05" />
<circle cx="567.00" cy="72.79" r="3.00" fill="#5a5a5a" stroke="#000" stroke-width="1.05" />
<circle cx="567.30" cy="81.23" r="3.00" fill="#5a5a5a" stroke="#000" stroke-width="1.05" />
<line x1="560.00" y1="72.48" x2="574.00" y2="72.48" stroke="#000" stroke-width="2.0" />
<line x1="567.00" y1="68.78" x2="567.00" y2="76.17" stroke="#000" stroke-width="1.0" />
<line x1="564.50" y1="68.78" x2="569.50" y2="68.78" stroke="#000" stroke-width="1.0" />
<line x1="564.50" y1="76.17" x2="569.50" y2="76.17" stroke="#000" stroke-width="1.0" />
<circle cx="583.00" cy="100.65" r="3.00" fill="#fff" stroke="#000" stroke-width="1.05" />
<circle cx="586.40" cy="102.97" r="3.00" fill="#fff" stroke="#000" stroke-width="1.05" />
<circle cx="581.60" cy="117.31" r="3.00" fill="#fff" stroke="#000" stroke-width="1.05" />
<circle cx="586.00" cy="118.05" r="3.00" fill="#fff" stroke="#000" stroke-width="1.05" />
<line x1="577.60" y1="111.20" x2="591.60" y2="111.20" stroke="#000" stroke-width="2.0" />
<line x1="584.60" y1="105.29" x2="584.60" y2="117.10" stroke="#000" stroke-width="1.0" />
<line x1="582.10" y1="105.29" x2="587.10" y2="105.29" stroke="#000" stroke-width="1.0" />
<line x1="582.10" y1="117.10" x2="587.10" y2="117.10" stroke="#000" stroke-width="1.0" />
<circle cx="598.90" cy="50.01" r="3.00" fill="#5a5a5a" stroke="#000" stroke-width="1.05" />
<circle cx="596.80" cy="51.80" r="3.00" fill="#5a5a5a" stroke="#000" stroke-width="1.05" />
<circle cx="603.10" cy="56.34" r="3.00" fill="#5a5a5a" stroke="#000" stroke-width="1.05" />
<circle cx="599.90" cy="71.63" r="3.00" fill="#5a5a5a" stroke="#000" stroke-width="1.05" />
<line x1="593.60" y1="57.60" x2="607.60" y2="57.60" stroke="#000" stroke-width="2.0" />
<line x1="600.60" y1="53.38" x2="600.60" y2="61.82" stroke="#000" stroke-width="1.0" />
<line x1="598.10" y1="53.38" x2="603.10" y2="53.38" stroke="#000" stroke-width="1.0" />
<line x1="598.10" y1="61.82" x2="603.10" y2="61.82" stroke="#000" stroke-width="1.0" />
<path d="M567.00,35.30V39.80M567.00,39.75V44.25M567.00,44.20V48.70" stroke="#888" stroke-width="0.8" fill="none"/>
<path d="M565.05,36.31L568.95,38.79M565.05,38.79L568.95,36.31M565.05,40.76L568.95,43.24M565.05,43.24L568.95,40.76M565.05,45.21L568.95,47.69M565.05,47.69L568.95,45.21" stroke="#555" stroke-width="0.9" fill="none"/>
<path d="M600.60,29.80V34.30M600.60,34.25V38.75M600.60,38.70V43.20" stroke="#888" stroke-width="0.8" fill="none"/>
<path d="M598.65,30.81L602.55,33.29M598.65,33.29L602.55,30.81M598.65,35.26L602.55,37.74M598.65,37.74L602.55,35.26M598.65,39.71L602.55,42.19M598.65,42.19L602.55,39.71" stroke="#555" stroke-width="0.9" fill="none"/>
<text x="-0.20" y="178.80" font-size="17.5" font-weight="bold" stroke="#000" stroke-width="0.25" >c</text>
<rect x="16.10" y="229.60" width="4.60" height="30.20" fill="#9c0000" />
<rect x="19.70" y="229.60" width="30.40" height="30.20" fill="#860000" />
<rect x="49.10" y="229.60" width="7.10" height="30.20" fill="#8e0000" />
<rect x="55.20" y="229.60" width="5.80" height="30.20" fill="#ec0000" />
<rect x="60.00" y="229.60" width="5.00" height="30.20" fill="#f20000" />
<rect x="64.00" y="229.60" width="5.00" height="30.20" fill="#e80000" />
<rect x="68.00" y="229.60" width="6.00" height="30.20" fill="#f00000" />
<rect x="73.00" y="229.60" width="6.40" height="30.20" fill="#ea0000" />
<rect x="78.40" y="229.60" width="7.80" height="30.20" fill="#cc0000" />
<rect x="85.20" y="229.60" width="5.80" height="30.20" fill="#f40000" />
<rect x="90.00" y="229.60" width="6.00" height="30.20" fill="#fc0000" />
<rect x="95.00" y="229.60" width="7.60" height="30.20" fill="#f00000" />
<rect x="101.60" y="229.60" width="6.40" height="30.20" fill="#b80000" />
<rect x="107.00" y="229.60" width="7.40" height="30.20" fill="#c40000" />
<rect x="113.40" y="229.60" width="5.60" height="30.20" fill="#ff1010" />
<rect x="118.00" y="229.60" width="5.00" height="30.20" fill="#f60606" />
<rect x="122.00" y="229.60" width="5.00" height="30.20" fill="#ff0c0c" />
<rect x="126.00" y="229.60" width="4.30" height="30.20" fill="#f80808" />
<rect x="129.30" y="229.60" width="7.70" height="30.20" fill="#ea0000" />
<rect x="136.00" y="229.60" width="7.90" height="30.20" fill="#e60000" />
<rect x="142.90" y="229.60" width="6.10" height="30.20" fill="#ff1a1a" />
<rect x="148.00" y="229.60" width="6.00" height="30.20" fill="#fa1414" />
<rect x="153.00" y="229.60" width="6.80" height="30.20" fill="#ff2020" />
<rect x="158.80" y="229.60" width="6.20" height="30.20" fill="#ff3c3c" />
<rect x="164.00" y="229.60" width="6.00" height="30.20" fill="#ff4444" />
<rect x="169.00" y="229.60" width="6.70" height="30.20" fill="#ff3838" />
<rect x="174.70" y="229.60" width="8.70" height="30.20" fill="#1010d8" />
<rect x="182.40" y="229.60" width="9.30" height="30.20" fill="#0808cc" />
<rect x="190.70" y="229.60" width="7.30" height="30.20" fill="#0a0ae0" />
<rect x="197.00" y="229.60" width="7.00" height="30.20" fill="#0606da" />
<rect x="203.00" y="229.60" width="6.00" height="30.20" fill="#1a1aff" />
<rect x="208.00" y="229.60" width="5.70" height="30.20" fill="#1414ff" />
<rect x="212.70" y="229.60" width="6.30" height="30.20" fill="#4444ff" />
<rect x="218.00" y="229.60" width="5.00" height="30.20" fill="#3a3aff" />
<rect x="222.00" y="229.60" width="4.10" height="30.20" fill="#4646ff" />
<rect x="225.10" y="229.60" width="3.70" height="30.20" fill="#2a2aff" />
<rect x="227.80" y="229.60" width="7.20" height="30.20" fill="#2222ff" />
<rect x="234.00" y="229.60" width="6.00" height="30.20" fill="#2a2aff" />
<rect x="239.00" y="229.60" width="6.40" height="30.20" fill="#1e1eff" />
<rect x="244.40" y="229.60" width="6.60" height="30.20" fill="#0000dd" />
<rect x="250.00" y="229.60" width="7.00" height="30.20" fill="#0000e8" />
<rect x="256.00" y="229.60" width="8.10" height="30.20" fill="#0404e4" />
<rect x="263.10" y="229.60" width="7.90" height="30.20" fill="#0a0aff" />
<rect x="270.00" y="229.60" width="7.00" height="30.20" fill="#1414ff" />
<rect x="276.00" y="229.60" width="10.00" height="30.20" fill="#0a0aff" />
<rect x="285.00" y="229.60" width="13.00" height="30.20" fill="#0000d0" />
<rect x="297.00" y="229.60" width="12.30" height="30.20" fill="#0000c4" />
<rect x="308.30" y="229.60" width="8.70" height="30.20" fill="#0000b0" />
<rect x="316.00" y="229.60" width="7.90" height="30.20" fill="#0000a8" />
<rect x="322.90" y="229.60" width="6.90" height="30.20" fill="#000090" />
<rect x="328.80" y="229.60" width="3.70" height="30.20" fill="#000074" />
<rect x="331.50" y="229.60" width="3.20" height="30.20" fill="#000064" />
<rect x="16.10" y="258.80" width="8.80" height="28.00" fill="#b40000" />
<rect x="23.90" y="258.80" width="28.30" height="28.00" fill="#800000" />
<rect x="51.20" y="258.80" width="5.00" height="28.00" fill="#8c0000" />
<rect x="55.20" y="258.80" width="7.80" height="28.00" fill="#ee0000" />
<rect x="62.00" y="258.80" width="5.00" height="28.00" fill="#e60000" />
<rect x="66.00" y="258.80" width="7.00" height="28.00" fill="#f20000" />
<rect x="72.00" y="258.80" width="7.00" height="28.00" fill="#e80000" />
<rect x="78.00" y="258.80" width="8.00" height="28.00" fill="#f00000" />
<rect x="85.00" y="258.80" width="8.00" height="28.00" fill="#ea0000" />
<rect x="92.00" y="258.80" width="6.70" height="28.00" fill="#f20000" />
<rect x="97.70" y="258.80" width="5.50" height="28.00" fill="#ff1010" />
<rect x="102.20" y="258.80" width="6.80" height="28.00" fill="#d00000" />
<rect x="108.00" y="258.80" width="6.40" height="28.00" fill="#c80000" />
<rect x="113.40" y="258.80" width="7.60" height="28.00" fill="#ff1414" />
<rect x="120.00" y="258.80" width="7.00" height="28.00" fill="#f81010" />
<rect x="126.00" y="258.80" width="8.00" height="28.00" fill="#ff1818" />
<rect x="133.00" y="258.80" width="8.60" height="28.00" fill="#f41010" />
<rect x="140.60" y="258.80" width="8.40" height="28.00" fill="#ff5050" />
<rect x="148.00" y="258.80" width="8.00" height="28.00" fill="#ff4c4c" />
<rect x="155.00" y="258.80" width="6.00" height="28.00" fill="#ff5656" />
<rect x="160.00" y="258.80" width="6.60" height="28.00" fill="#ff4a4a" />
<rect x="165.60" y="258.80" width="10.10" height="28.00" fill="#ff2a2a" />
<rect x="174.70" y="258.80" width="8.70" height="28.00" fill="#1e1eff" />
<rect x="182.40" y="258.80" width="4.60" height="28.00" fill="#3232ff" />
<rect x="186.00" y="258.80" width="5.70" height="28.00" fill="#2a2aff" />
<rect x="190.70" y="258.80" width="7.30" height="28.00" fill="#1212ff" />
<rect x="197.00" y="258.80" width="7.00" height="28.00" fill="#1616ff" />
<rect x="203.00" y="258.80" width="12.00" height="28.00" fill="#0c0ce0" />
<rect x="214.00" y="258.80" width="9.00" height="28.00" fill="#4a4aff" />
<rect x="222.00" y="258.80" width="7.00" height="28.00" fill="#4242ff" />
<rect x="228.00" y="258.80" width="9.00" height="28.00" fill="#4c4cff" />
<rect x="236.00" y="258.80" width="9.00" height="28.00" fill="#4444ff" />
<rect x="244.00" y="258.80" width="9.00" height="28.00" fill="#4a4aff" />
<rect x="252.00" y="258.80" width="9.00" height="28.00" fill="#4040ff" />
<rect x="260.00" y="258.80" width="11.00" height="28.00" fill="#4646ff" />
<rect x="270.00" y="258.80" width="9.00" height="28.00" fill="#3e3eff" />
<rect x="278.00" y="258.80" width="8.00" height="28.00" fill="#3636ff" />
<rect x="285.00" y="258.80" width="9.80" height="28.00" fill="#0808e0" />
<rect x="293.80" y="258.80" width="9.20" height="28.00" fill="#0000e8" />
<rect x="302.00" y="258.80" width="10.30" height="28.00" fill="#0000f0" />
<rect x="311.30" y="258.80" width="6.70" height="28.00" fill="#0000cc" />
<rect x="317.00" y="258.80" width="6.90" height="28.00" fill="#0000c4" />
<rect x="322.90" y="258.80" width="6.90" height="28.00" fill="#00009a" />
<rect x="328.80" y="258.80" width="3.70" height="28.00" fill="#000078" />
<rect x="331.50" y="258.80" width="3.20" height="28.00" fill="#000068" />
<g stroke="#4a4a4a" stroke-width="0.9" fill="none">
<path d="M82.8,225.4 V216.7 H296.4 V225.2"/>
<path d="M44.3,226.4 V225.2 H121.9 V228"/>
<path d="M32.2,229.2 V226.6 H55.5 V229.2"/>
<path d="M97,229.2 V228.1 H146.9 V229.2"/>
<path d="M262.8,228.6 V225.2 H329.5 V228.6"/>
<path d="M194,228.8 H239.3"/>
<path d="M11.9,243.3 V272.4 M11.5,243.3 H16.1 M11.5,272.4 H16.1"/>
</g>
<path d="M16,229.3 H334.7" stroke="#999" stroke-width="0.6" fill="none"/>
<line x1="334.70" y1="243.40" x2="339.20" y2="243.40" stroke="#000" stroke-width="1.0" />
<line x1="334.70" y1="272.40" x2="339.20" y2="272.40" stroke="#000" stroke-width="1.0" />
<text x="342.80" y="248.00" font-size="10.8" stroke="#000" stroke-width="0.25" >Ad-<tspan font-style="italic">Hif2a</tspan></text>
<text x="342.80" y="276.90" font-size="10.8" stroke="#000" stroke-width="0.25" >Ad-<tspan font-style="italic">Hif1a</tspan></text>
<rect x="283.80" y="179.50" width="53.40" height="5.20" fill="url(#fcgrad)" />
<line x1="290.60" y1="184.70" x2="290.60" y2="189.20" stroke="#000" stroke-width="1.0" />
<line x1="310.40" y1="184.70" x2="310.40" y2="189.20" stroke="#000" stroke-width="1.0" />
<line x1="330.30" y1="184.70" x2="330.30" y2="189.20" stroke="#000" stroke-width="1.0" />
<text x="267.40" y="200.20" font-size="9.6" stroke="#000" stroke-width="0.25" >FC</text>
<text x="290.60" y="200.20" font-size="9.6" text-anchor="middle" stroke="#000" stroke-width="0.25" >-2</text>
<text x="310.40" y="200.20" font-size="9.6" text-anchor="middle" stroke="#000" stroke-width="0.25" >0</text>
<text x="330.30" y="200.20" font-size="9.6" text-anchor="middle" stroke="#000" stroke-width="0.25" >2</text>
<text x="407.20" y="179.40" font-size="17.5" font-weight="bold" stroke="#000" stroke-width="0.25" >d</text>
<circle cx="476.3" cy="247" r="48.4" fill="#c6e1a6"/>
<circle cx="519.1" cy="246.8" r="52.6" fill="#d6c2e2"/>
<circle cx="519.1" cy="246.8" r="52.6" fill="#aaa99c" clip-path="url(#clipd)"/>
<text x="464.00" y="191.00" font-size="10.8" text-anchor="middle" stroke="#000" stroke-width="0.25" >Ad-<tspan font-style="italic">Hif1a</tspan></text>
<text x="529.00" y="191.00" font-size="10.8" text-anchor="middle" stroke="#000" stroke-width="0.25" >Ad-<tspan font-style="italic">Hif2a</tspan></text>
<text x="449.80" y="245.60" font-size="10.8" text-anchor="middle" stroke="#000" stroke-width="0.25" >146</text>
<text x="449.80" y="258.20" font-size="9.5" text-anchor="middle" stroke="#000" stroke-width="0.25" >(10.9%)</text>
<text x="495.20" y="245.60" font-size="10.8" text-anchor="middle" stroke="#000" stroke-width="0.25" >838</text>
<text x="495.20" y="258.20" font-size="9.5" text-anchor="middle" stroke="#000" stroke-width="0.25" >(62.7%)</text>
<text x="546.30" y="245.60" font-size="10.8" text-anchor="middle" stroke="#000" stroke-width="0.25" >353</text>
<text x="546.30" y="258.20" font-size="9.5" text-anchor="middle" stroke="#000" stroke-width="0.25" >(26.4%)</text>
<text x="488.70" y="312.20" font-size="10.9" text-anchor="middle" stroke="#000" stroke-width="0.25" >Total : 40,213 genes</text>
<text x="-0.60" y="337.20" font-size="17.5" font-weight="bold" stroke="#000" stroke-width="0.25" >e</text>
<text x="54.00" y="345.00" font-size="10.8" stroke="#000" stroke-width="0.25" >TOP 10 Enriched GO terms</text>
<text x="239.50" y="345.00" font-size="10.8" stroke="#000" stroke-width="0.25" >Ad-<tspan font-style="italic">Hif1a</tspan></text>
<line x1="10.40" y1="351.50" x2="229.60" y2="351.50" stroke="#555" stroke-width="1.0" />
<line x1="235.00" y1="351.50" x2="235.00" y2="475.80" stroke="#dcdcdc" stroke-width="0.9" />
<line x1="241.12" y1="351.50" x2="241.12" y2="475.80" stroke="#dcdcdc" stroke-width="0.9" />
<line x1="247.24" y1="351.50" x2="247.24" y2="475.80" stroke="#dcdcdc" stroke-width="0.9" />
<line x1="253.36" y1="351.50" x2="253.36" y2="475.80" stroke="#dcdcdc" stroke-width="0.9" />
<line x1="259.48" y1="351.50" x2="259.48" y2="475.80" stroke="#dcdcdc" stroke-width="0.9" />
<line x1="265.60" y1="351.50" x2="265.60" y2="475.80" stroke="#dcdcdc" stroke-width="0.9" />
<line x1="271.72" y1="351.50" x2="271.72" y2="475.80" stroke="#dcdcdc" stroke-width="0.9" />
<line x1="277.84" y1="351.50" x2="277.84" y2="475.80" stroke="#dcdcdc" stroke-width="0.9" />
<line x1="283.96" y1="351.50" x2="283.96" y2="475.80" stroke="#dcdcdc" stroke-width="0.9" />
<line x1="229.60" y1="361.20" x2="290.60" y2="361.20" stroke="#dcdcdc" stroke-width="0.9" />
<line x1="229.60" y1="372.65" x2="290.60" y2="372.65" stroke="#dcdcdc" stroke-width="0.9" />
<line x1="229.60" y1="384.10" x2="290.60" y2="384.10" stroke="#dcdcdc" stroke-width="0.9" />
<line x1="229.60" y1="395.55" x2="290.60" y2="395.55" stroke="#dcdcdc" stroke-width="0.9" />
<line x1="229.60" y1="407.00" x2="290.60" y2="407.00" stroke="#dcdcdc" stroke-width="0.9" />
<line x1="229.60" y1="418.45" x2="290.60" y2="418.45" stroke="#dcdcdc" stroke-width="0.9" />
<line x1="229.60" y1="429.90" x2="290.60" y2="429.90" stroke="#dcdcdc" stroke-width="0.9" />
<line x1="229.60" y1="441.35" x2="290.60" y2="441.35" stroke="#dcdcdc" stroke-width="0.9" />
<line x1="229.60" y1="452.80" x2="290.60" y2="452.80" stroke="#dcdcdc" stroke-width="0.9" />
<line x1="229.60" y1="464.25" x2="290.60" y2="464.25" stroke="#dcdcdc" stroke-width="0.9" />
<rect x="229.60" y="351.50" width="61.00" height="124.30" fill="none" stroke="#222" stroke-width="1.1" />
<line x1="220.00" y1="361.20" x2="229.60" y2="361.20" stroke="#333" stroke-width="1.0" />
<text x="212.80" y="364.40" font-size="9.3" text-anchor="end" stroke="#000" stroke-width="0.25" >Immune system process</text>
<circle cx="244.18" cy="361.20" r="5.62" fill="#ff0000" />
<line x1="220.00" y1="372.65" x2="229.60" y2="372.65" stroke="#333" stroke-width="1.0" />
<text x="212.80" y="375.85" font-size="9.3" text-anchor="end" stroke="#000" stroke-width="0.25" >Inflammatory response</text>
<circle cx="246.93" cy="372.65" r="4.88" fill="#ff1000" />
<line x1="220.00" y1="384.10" x2="229.60" y2="384.10" stroke="#333" stroke-width="1.0" />
<text x="212.80" y="387.30" font-size="9.3" text-anchor="end" stroke="#000" stroke-width="0.25" >Positive regulation of cell migration</text>
<circle cx="254.28" cy="384.10" r="4.35" fill="#ff3c00" />
<line x1="220.00" y1="395.55" x2="229.60" y2="395.55" stroke="#333" stroke-width="1.0" />
<text x="212.80" y="398.75" font-size="9.3" text-anchor="end" stroke="#000" stroke-width="0.25" >Positive regulation of ERK1 and ERK2 cascade</text>
<circle cx="256.42" cy="395.55" r="4.24" fill="#ff3c00" />
<line x1="220.00" y1="407.00" x2="229.60" y2="407.00" stroke="#333" stroke-width="1.0" />
<text x="212.80" y="410.20" font-size="9.3" text-anchor="end" stroke="#000" stroke-width="0.25" >Immune response</text>
<circle cx="240.20" cy="407.00" r="4.03" fill="#ff6600" />
<line x1="220.00" y1="418.45" x2="229.60" y2="418.45" stroke="#333" stroke-width="1.0" />
<text x="212.80" y="421.65" font-size="9.3" text-anchor="end" stroke="#000" stroke-width="0.25" >Innate immune response</text>
<circle cx="238.37" cy="418.45" r="3.71" fill="#ff6600" />
<line x1="220.00" y1="429.90" x2="229.60" y2="429.90" stroke="#333" stroke-width="1.0" />
<text x="212.80" y="433.10" font-size="9.3" text-anchor="end" stroke="#000" stroke-width="0.25" >Positive regulation of gene expression</text>
<circle cx="235.00" cy="429.90" r="3.39" fill="#ff9933" />
<line x1="220.00" y1="441.35" x2="229.60" y2="441.35" stroke="#333" stroke-width="1.0" />
<text x="212.80" y="444.55" font-size="9.3" text-anchor="end" stroke="#000" stroke-width="0.25" >Cellular response to interleukin-1</text>
<circle cx="285.80" cy="441.35" r="3.39" fill="#ff9933" />
<line x1="220.00" y1="452.80" x2="229.60" y2="452.80" stroke="#333" stroke-width="1.0" />
<text x="212.80" y="456.00" font-size="9.3" text-anchor="end" stroke="#000" stroke-width="0.25" >Cellular response to lipopolysaccharide</text>
<circle cx="244.18" cy="452.80" r="2.76" fill="#ffcc1a" />
<line x1="220.00" y1="464.25" x2="229.60" y2="464.25" stroke="#333" stroke-width="1.0" />
<text x="212.80" y="467.45" font-size="9.3" text-anchor="end" stroke="#000" stroke-width="0.25" >Cellular response to tumor necrosis factor</text>
<circle cx="258.56" cy="464.25" r="2.23" fill="#d6d61a" />
<line x1="235.00" y1="475.80" x2="235.00" y2="479.40" stroke="#333" stroke-width="1.0" />
<text x="235.00" y="490.30" font-size="9.8" text-anchor="middle" stroke="#000" stroke-width="0.25" >4</text>
<line x1="259.48" y1="475.80" x2="259.48" y2="479.40" stroke="#333" stroke-width="1.0" />
<text x="259.48" y="490.30" font-size="9.8" text-anchor="middle" stroke="#000" stroke-width="0.25" >8</text>
<line x1="283.96" y1="475.80" x2="283.96" y2="479.40" stroke="#333" stroke-width="1.0" />
<text x="283.96" y="490.30" font-size="9.8" text-anchor="middle" stroke="#000" stroke-width="0.25" >12</text>
<text x="260.40" y="503.50" font-size="10.8" text-anchor="middle" stroke="#000" stroke-width="0.25" >Fold Enrichment</text>
<rect x="298.40" y="351.20" width="53.50" height="90.30" fill="#fff" stroke="#222" stroke-width="1.0" />
<text x="325.60" y="360.90" font-size="7.8" text-anchor="middle" stroke="#000" stroke-width="0.25" >-Log10</text>
<text x="325.60" y="370.20" font-size="7.8" text-anchor="middle" stroke="#000" stroke-width="0.25" >(p-value)</text>
<circle cx="311.00" cy="381.20" r="5.51" fill="#ff0000" />
<text x="323.00" y="383.90" font-size="7.8" stroke="#000" stroke-width="0.25" >19.47</text>
<circle cx="311.00" cy="394.45" r="4.47" fill="#ff3c00" />
<text x="323.00" y="397.15" font-size="7.8" stroke="#000" stroke-width="0.25" >18.74</text>
<circle cx="311.00" cy="407.70" r="4.06" fill="#ff6600" />
<text x="323.00" y="410.40" font-size="7.8" stroke="#000" stroke-width="0.25" >14.75</text>
<circle cx="311.00" cy="420.95" r="3.33" fill="#ff9933" />
<text x="323.00" y="423.65" font-size="7.8" stroke="#000" stroke-width="0.25" >13.77</text>
<circle cx="311.00" cy="434.20" r="2.29" fill="#d6d61a" />
<text x="323.00" y="436.90" font-size="7.8" stroke="#000" stroke-width="0.25" >12.79</text>
<text x="54.00" y="526.80" font-size="10.8" stroke="#000" stroke-width="0.25" >TOP 10 Enriched GO terms</text>
<text x="239.50" y="526.80" font-size="10.8" stroke="#000" stroke-width="0.25" >Ad-<tspan font-style="italic">Hif2a</tspan></text>
<line x1="10.40" y1="533.00" x2="229.60" y2="533.00" stroke="#555" stroke-width="1.0" />
<line x1="237.60" y1="533.00" x2="237.60" y2="657.00" stroke="#dcdcdc" stroke-width="0.9" />
<line x1="246.38" y1="533.00" x2="246.38" y2="657.00" stroke="#dcdcdc" stroke-width="0.9" />
<line x1="255.15" y1="533.00" x2="255.15" y2="657.00" stroke="#dcdcdc" stroke-width="0.9" />
<line x1="263.93" y1="533.00" x2="263.93" y2="657.00" stroke="#dcdcdc" stroke-width="0.9" />
<line x1="272.70" y1="533.00" x2="272.70" y2="657.00" stroke="#dcdcdc" stroke-width="0.9" />
<line x1="281.48" y1="533.00" x2="281.48" y2="657.00" stroke="#dcdcdc" stroke-width="0.9" />
<line x1="229.60" y1="542.70" x2="290.60" y2="542.70" stroke="#dcdcdc" stroke-width="0.9" />
<line x1="229.60" y1="554.15" x2="290.60" y2="554.15" stroke="#dcdcdc" stroke-width="0.9" />
<line x1="229.60" y1="565.60" x2="290.60" y2="565.60" stroke="#dcdcdc" stroke-width="0.9" />
<line x1="229.60" y1="577.05" x2="290.60" y2="577.05" stroke="#dcdcdc" stroke-width="0.9" />
<line x1="229.60" y1="588.50" x2="290.60" y2="588.50" stroke="#dcdcdc" stroke-width="0.9" />
<line x1="229.60" y1="599.95" x2="290.60" y2="599.95" stroke="#dcdcdc" stroke-width="0.9" />
<line x1="229.60" y1="611.40" x2="290.60" y2="611.40" stroke="#dcdcdc" stroke-width="0.9" />
<line x1="229.60" y1="622.85" x2="290.60" y2="622.85" stroke="#dcdcdc" stroke-width="0.9" />
<line x1="229.60" y1="634.30" x2="290.60" y2="634.30" stroke="#dcdcdc" stroke-width="0.9" />
<line x1="229.60" y1="645.75" x2="290.60" y2="645.75" stroke="#dcdcdc" stroke-width="0.9" />
<rect x="229.60" y="533.00" width="61.00" height="124.00" fill="none" stroke="#222" stroke-width="1.1" />
<line x1="220.00" y1="542.70" x2="229.60" y2="542.70" stroke="#333" stroke-width="1.0" />
<text x="215.00" y="545.90" font-size="9.3" text-anchor="end" stroke="#000" stroke-width="0.25" >Immune system process</text>
<circle cx="262.17" cy="542.70" r="5.41" fill="#ff0000" />
<line x1="220.00" y1="554.15" x2="229.60" y2="554.15" stroke="#333" stroke-width="1.0" />
<text x="215.00" y="557.35" font-size="9.3" text-anchor="end" stroke="#000" stroke-width="0.25" >Inflammatory response</text>
<circle cx="276.21" cy="554.15" r="4.88" fill="#ff1000" />
<line x1="220.00" y1="565.60" x2="229.60" y2="565.60" stroke="#333" stroke-width="1.0" />
<text x="215.00" y="568.80" font-size="9.3" text-anchor="end" stroke="#000" stroke-width="0.25" >Positive regulation of cell migration</text>
<circle cx="285.86" cy="565.60" r="4.77" fill="#ff3c00" />
<line x1="220.00" y1="577.05" x2="229.60" y2="577.05" stroke="#333" stroke-width="1.0" />
<text x="215.00" y="580.25" font-size="9.3" text-anchor="end" stroke="#000" stroke-width="0.25" >Cell differentiation</text>
<circle cx="235.84" cy="577.05" r="4.45" fill="#ff3c00" />
<line x1="220.00" y1="588.50" x2="229.60" y2="588.50" stroke="#333" stroke-width="1.0" />
<text x="215.00" y="591.70" font-size="9.3" text-anchor="end" stroke="#000" stroke-width="0.25" >Immune response</text>
<circle cx="258.66" cy="588.50" r="4.03" fill="#ff5500" />
<line x1="220.00" y1="599.95" x2="229.60" y2="599.95" stroke="#333" stroke-width="1.0" />
<text x="215.00" y="603.15" font-size="9.3" text-anchor="end" stroke="#000" stroke-width="0.25" >Positive regulation of gene expression</text>
<circle cx="249.88" cy="599.95" r="3.71" fill="#ff6600" />
<line x1="220.00" y1="611.40" x2="229.60" y2="611.40" stroke="#333" stroke-width="1.0" />
<text x="215.00" y="614.60" font-size="9.3" text-anchor="end" stroke="#000" stroke-width="0.25" >Cell adhesion</text>
<circle cx="247.25" cy="611.40" r="3.50" fill="#ff9933" />
<line x1="220.00" y1="622.85" x2="229.60" y2="622.85" stroke="#333" stroke-width="1.0" />
<text x="215.00" y="626.05" font-size="9.3" text-anchor="end" stroke="#000" stroke-width="0.25" >Positive regulation of ERK1 and ERK2 cascade</text>
<circle cx="284.99" cy="622.85" r="3.07" fill="#ff9933" />
<line x1="220.00" y1="634.30" x2="229.60" y2="634.30" stroke="#333" stroke-width="1.0" />
<text x="215.00" y="637.50" font-size="9.3" text-anchor="end" stroke="#000" stroke-width="0.25" >Negative regulation of cell population proliferation</text>
<circle cx="260.41" cy="634.30" r="2.65" fill="#ffcc1a" />
<line x1="220.00" y1="645.75" x2="229.60" y2="645.75" stroke="#333" stroke-width="1.0" />
<text x="215.00" y="648.95" font-size="9.3" text-anchor="end" stroke="#000" stroke-width="0.25" >Multicellular organism development</text>
<circle cx="232.34" cy="645.75" r="2.12" fill="#d6d61a" />
<line x1="237.60" y1="657.00" x2="237.60" y2="660.60" stroke="#333" stroke-width="1.0" />
<text x="237.60" y="671.50" font-size="9.8" text-anchor="middle" stroke="#000" stroke-width="0.25" >3</text>
<line x1="255.15" y1="657.00" x2="255.15" y2="660.60" stroke="#333" stroke-width="1.0" />
<text x="255.15" y="671.50" font-size="9.8" text-anchor="middle" stroke="#000" stroke-width="0.25" >4</text>
<line x1="272.70" y1="657.00" x2="272.70" y2="660.60" stroke="#333" stroke-width="1.0" />
<text x="272.70" y="671.50" font-size="9.8" text-anchor="middle" stroke="#000" stroke-width="0.25" >5</text>
<line x1="290.25" y1="657.00" x2="290.25" y2="660.60" stroke="#333" stroke-width="1.0" />
<text x="290.25" y="671.50" font-size="9.8" text-anchor="middle" stroke="#000" stroke-width="0.25" >6</text>
<text x="260.40" y="684.70" font-size="10.8" text-anchor="middle" stroke="#000" stroke-width="0.25" >Fold Enrichment</text>
<rect x="298.40" y="532.40" width="53.50" height="91.10" fill="#fff" stroke="#222" stroke-width="1.0" />
<text x="325.60" y="542.10" font-size="7.8" text-anchor="middle" stroke="#000" stroke-width="0.25" >-Log10</text>
<text x="325.60" y="551.40" font-size="7.8" text-anchor="middle" stroke="#000" stroke-width="0.25" >(p-value)</text>
<circle cx="311.00" cy="562.40" r="5.51" fill="#ff0000" />
<text x="323.00" y="565.10" font-size="7.8" stroke="#000" stroke-width="0.25" >20.62</text>
<circle cx="311.00" cy="575.65" r="4.47" fill="#ff3c00" />
<text x="323.00" y="578.35" font-size="7.8" stroke="#000" stroke-width="0.25" >15.51</text>
<circle cx="311.00" cy="588.90" r="4.06" fill="#ff6600" />
<text x="323.00" y="591.60" font-size="7.8" stroke="#000" stroke-width="0.25" >15.42</text>
<circle cx="311.00" cy="602.15" r="3.33" fill="#ff9933" />
<text x="323.00" y="604.85" font-size="7.8" stroke="#000" stroke-width="0.25" >14.61</text>
<circle cx="311.00" cy="615.40" r="2.29" fill="#d6d61a" />
<text x="323.00" y="618.10" font-size="7.8" stroke="#000" stroke-width="0.25" >14.29</text>
<text x="385.20" y="337.00" font-size="17.5" font-weight="bold" stroke="#000" stroke-width="0.25" >f</text>
<text x="498.10" y="348.60" font-size="10.8" text-anchor="middle" stroke="#000" stroke-width="0.25" >Cell differentiation</text>
<text x="498.10" y="361.80" font-size="10.8" text-anchor="middle" stroke="#000" stroke-width="0.25" >(Total : 3,905 genes)</text>
<circle cx="470.6" cy="450.5" r="49" fill="#c8e2a8"/>
<circle cx="531.8" cy="449.6" r="53" fill="#dcd2e6"/>
<circle cx="531.8" cy="449.6" r="53" fill="#a9b598" clip-path="url(#clipf)"/>
<text x="464.80" y="394.00" font-size="10.8" text-anchor="middle" stroke="#000" stroke-width="0.25" >Ad-<tspan font-style="italic">Hif1a</tspan></text>
<text x="537.80" y="394.00" font-size="10.8" text-anchor="middle" stroke="#000" stroke-width="0.25" >Ad-<tspan font-style="italic">Hif2a</tspan></text>
<text x="450.90" y="443.90" font-size="10.8" text-anchor="middle" fill="#ff1010" stroke="#ff1010" stroke-width="0.25" >24</text>
<text x="450.90" y="457.90" font-size="10.8" text-anchor="middle" fill="#1a1aff" stroke="#1a1aff" stroke-width="0.25" >10</text>
<text x="546.50" y="443.90" font-size="10.8" text-anchor="middle" fill="#ff1010" stroke="#ff1010" stroke-width="0.25" >37</text>
<text x="546.50" y="457.90" font-size="10.8" text-anchor="middle" fill="#1a1aff" stroke="#1a1aff" stroke-width="0.25" >68</text>
<rect x="487.40" y="430.20" width="23.00" height="13.00" fill="none" stroke="#000" stroke-width="1.0" />
<rect x="487.40" y="448.70" width="23.00" height="13.20" fill="none" stroke="#000" stroke-width="1.0" />
<text x="498.90" y="440.60" font-size="10.8" text-anchor="middle" fill="#ff1010" stroke="#ff1010" stroke-width="0.25" >117</text>
<text x="498.90" y="459.20" font-size="10.8" text-anchor="middle" fill="#1a1aff" stroke="#1a1aff" stroke-width="0.25" >151</text>
<line x1="478.80" y1="450.80" x2="393.20" y2="532.10" stroke="#111" stroke-width="0.9" stroke-dasharray="1.6,0.5"/>
<line x1="519.30" y1="450.80" x2="616.20" y2="531.50" stroke="#111" stroke-width="0.9" stroke-dasharray="1.6,0.5"/>
<rect x="393.20" y="532.10" width="109.20" height="134.20" fill="#fff" stroke="#000" stroke-width="1.0" />
<text x="450.40" y="543.30" font-size="9.4" text-anchor="middle" fill="#ff1010" stroke="#ff1010" stroke-width="0.25" >Up-regulated</text>
<text x="412.10" y="556.30" font-size="9.4" text-anchor="middle" stroke="#000" stroke-width="0.25" >Ad-</text>
<text x="442.60" y="556.30" font-size="9.4" text-anchor="middle" stroke="#000" stroke-width="0.25" >Ad-</text>
<text x="412.10" y="567.30" font-size="9.4" text-anchor="middle" font-style="italic" stroke="#000" stroke-width="0.25" >Hif1a</text>
<text x="442.60" y="567.30" font-size="9.4" text-anchor="middle" font-style="italic" stroke="#000" stroke-width="0.25" >Hif2a</text>
<rect x="398.10" y="569.80" width="30.20" height="10.70" fill="#b40000" />
<rect x="427.70" y="569.80" width="29.50" height="10.70" fill="#ff7058" />
<text x="425.20" y="578.00" font-size="9.4" text-anchor="end" fill="#fff" >9.59</text>
<text x="453.60" y="578.00" font-size="9.4" text-anchor="end" fill="#fff" >2.79</text>
<text x="463.30" y="578.20" font-size="9.4" font-style="italic" stroke="#000" stroke-width="0.25" >Hif1a</text>
<rect x="398.10" y="579.90" width="30.20" height="10.70" fill="#8c0000" />
<rect x="427.70" y="579.90" width="29.50" height="10.70" fill="#800000" />
<text x="425.20" y="588.10" font-size="9.4" text-anchor="end" fill="#fff" >11.17</text>
<text x="453.60" y="588.10" font-size="9.4" text-anchor="end" fill="#fff" >35.34</text>
<text x="463.30" y="588.30" font-size="9.4" font-style="italic" stroke="#000" stroke-width="0.25" >Hif2a</text>
<rect x="398.10" y="590.00" width="30.20" height="10.70" fill="#ff0000" />
<rect x="427.70" y="590.00" width="29.50" height="10.70" fill="#cc0000" />
<text x="425.20" y="598.20" font-size="9.4" text-anchor="end" fill="#fff" >6.19</text>
<text x="453.60" y="598.20" font-size="9.4" text-anchor="end" fill="#fff" >8.94</text>
<text x="463.30" y="598.40" font-size="9.4" font-style="italic" stroke="#000" stroke-width="0.25" >Ptgs2</text>
<rect x="398.10" y="600.10" width="30.20" height="10.70" fill="#ff4400" />
<rect x="427.70" y="600.10" width="29.50" height="10.70" fill="#ff2a1a" />
<text x="425.20" y="608.30" font-size="9.4" text-anchor="end" fill="#fff" >3.73</text>
<text x="453.60" y="608.30" font-size="9.4" text-anchor="end" fill="#fff" >4.20</text>
<text x="463.30" y="608.50" font-size="9.4" font-style="italic" stroke="#000" stroke-width="0.25" >Fas</text>
<rect x="398.10" y="610.20" width="30.20" height="10.70" fill="#7a0000" />
<rect x="427.70" y="610.20" width="29.50" height="10.70" fill="#7a0000" />
<text x="425.20" y="618.40" font-size="9.4" text-anchor="end" fill="#fff" >28.63</text>
<text x="453.60" y="618.40" font-size="9.4" text-anchor="end" fill="#fff" >77.84</text>
<text x="463.30" y="618.60" font-size="9.4" font-style="italic" stroke="#000" stroke-width="0.25" >Il6</text>
<rect x="398.10" y="620.30" width="30.20" height="10.70" fill="#800000" />
<rect x="427.70" y="620.30" width="29.50" height="10.70" fill="#800000" />
<text x="425.20" y="628.50" font-size="9.4" text-anchor="end" fill="#fff" >16.18</text>
<text x="453.60" y="628.50" font-size="9.4" text-anchor="end" fill="#fff" >19.85</text>
<text x="463.30" y="628.70" font-size="9.4" font-style="italic" stroke="#000" stroke-width="0.25" >Rankl</text>
<rect x="398.10" y="630.40" width="30.20" height="10.70" fill="#ff4a1a" />
<rect x="427.70" y="630.40" width="29.50" height="10.70" fill="#ff2020" />
<text x="425.20" y="638.60" font-size="9.4" text-anchor="end" fill="#fff" >3.06</text>
<text x="453.60" y="638.60" font-size="9.4" text-anchor="end" fill="#fff" >4.88</text>
<text x="463.30" y="638.80" font-size="9.4" font-style="italic" stroke="#000" stroke-width="0.25" >Twist2</text>
<rect x="398.10" y="640.50" width="30.20" height="10.70" fill="#ff7a62" />
<rect x="427.70" y="640.50" width="29.50" height="10.70" fill="#ff3022" />
<text x="425.20" y="648.70" font-size="9.4" text-anchor="end" fill="#fff" >2.40</text>
<text x="453.60" y="648.70" font-size="9.4" text-anchor="end" fill="#fff" >3.39</text>
<text x="463.30" y="648.90" font-size="9.4" font-style="italic" stroke="#000" stroke-width="0.25" >Vegfa</text>
<rect x="398.10" y="650.60" width="30.20" height="10.70" fill="#ee2222" />
<rect x="427.70" y="650.60" width="29.50" height="10.70" fill="#ff0000" />
<text x="425.20" y="658.80" font-size="9.4" text-anchor="end" fill="#fff" >4.46</text>
<text x="453.60" y="658.80" font-size="9.4" text-anchor="end" fill="#fff" >6.27</text>
<text x="463.30" y="659.00" font-size="9.4" font-style="italic" stroke="#000" stroke-width="0.25" >Vegfc</text>
<rect x="507.60" y="532.90" width="108.60" height="112.50" fill="#fff" stroke="#000" stroke-width="1.0" />
<text x="561.50" y="543.40" font-size="9.4" text-anchor="middle" fill="#1a1aff" stroke="#1a1aff" stroke-width="0.25" >Down-regulated</text>
<text x="526.80" y="556.80" font-size="9.4" text-anchor="middle" stroke="#000" stroke-width="0.25" >Ad-</text>
<text x="556.30" y="556.80" font-size="9.4" text-anchor="middle" stroke="#000" stroke-width="0.25" >Ad-</text>
<text x="526.80" y="567.00" font-size="9.4" text-anchor="middle" font-style="italic" stroke="#000" stroke-width="0.25" >Hif1a</text>
<text x="556.30" y="567.00" font-size="9.4" text-anchor="middle" font-style="italic" stroke="#000" stroke-width="0.25" >Hif2a</text>
<rect x="511.80" y="570.20" width="30.00" height="10.56" fill="#4646ff" />
<rect x="541.30" y="570.20" width="28.90" height="10.56" fill="#5454ff" />
<text x="526.60" y="578.20" font-size="9.4" text-anchor="middle" fill="#fff" >0.35</text>
<text x="555.80" y="578.20" font-size="9.4" text-anchor="middle" fill="#fff" >0.39</text>
<text x="574.70" y="578.40" font-size="9.4" font-style="italic" stroke="#000" stroke-width="0.25" >Bglap1</text>
<rect x="511.80" y="580.16" width="30.00" height="10.56" fill="#2c2cf6" />
<rect x="541.30" y="580.16" width="28.90" height="10.56" fill="#4a4aff" />
<text x="526.60" y="588.16" font-size="9.4" text-anchor="middle" fill="#fff" >0.33</text>
<text x="555.80" y="588.16" font-size="9.4" text-anchor="middle" fill="#fff" >0.38</text>
<text x="574.70" y="588.36" font-size="9.4" font-style="italic" stroke="#000" stroke-width="0.25" >Bglap2</text>
<rect x="511.80" y="590.12" width="30.00" height="10.56" fill="#2020f0" />
<rect x="541.30" y="590.12" width="28.90" height="10.56" fill="#2222f2" />
<text x="526.60" y="598.12" font-size="9.4" text-anchor="middle" fill="#fff" >0.27</text>
<text x="555.80" y="598.12" font-size="9.4" text-anchor="middle" fill="#fff" >0.25</text>
<text x="574.70" y="598.32" font-size="9.4" font-style="italic" stroke="#000" stroke-width="0.25" >Bmp2</text>
<rect x="511.80" y="600.08" width="30.00" height="10.56" fill="#2626f2" />
<rect x="541.30" y="600.08" width="28.90" height="10.56" fill="#1c1cf4" />
<text x="526.60" y="608.08" font-size="9.4" text-anchor="middle" fill="#fff" >0.27</text>
<text x="555.80" y="608.08" font-size="9.4" text-anchor="middle" fill="#fff" >0.24</text>
<text x="574.70" y="608.28" font-size="9.4" font-style="italic" stroke="#000" stroke-width="0.25" >Fgfr2</text>
<rect x="511.80" y="610.04" width="30.00" height="10.56" fill="#0000e8" />
<rect x="541.30" y="610.04" width="28.90" height="10.56" fill="#0000ec" />
<text x="526.60" y="618.04" font-size="9.4" text-anchor="middle" fill="#fff" >0.15</text>
<text x="555.80" y="618.04" font-size="9.4" text-anchor="middle" fill="#fff" >0.16</text>
<text x="574.70" y="618.24" font-size="9.4" font-style="italic" stroke="#000" stroke-width="0.25" >Fgfr3</text>
<rect x="511.80" y="620.00" width="30.00" height="10.56" fill="#6464ff" />
<rect x="541.30" y="620.00" width="28.90" height="10.56" fill="#7272ff" />
<text x="526.60" y="628.00" font-size="9.4" text-anchor="middle" fill="#fff" >0.44</text>
<text x="555.80" y="628.00" font-size="9.4" text-anchor="middle" fill="#fff" >0.48</text>
<text x="574.70" y="628.20" font-size="9.4" font-style="italic" stroke="#000" stroke-width="0.25" >Sp7</text>
<rect x="511.80" y="629.96" width="30.00" height="10.56" fill="#2222f6" />
<rect x="541.30" y="629.96" width="28.90" height="10.56" fill="#3232ff" />
<text x="526.60" y="637.96" font-size="9.4" text-anchor="middle" fill="#fff" >0.25</text>
<text x="555.80" y="637.96" font-size="9.4" text-anchor="middle" fill="#fff" >0.28</text>
<text x="574.70" y="638.16" font-size="9.4" font-style="italic" stroke="#000" stroke-width="0.25" >Pparg</text>
</svg>
</body></html>
